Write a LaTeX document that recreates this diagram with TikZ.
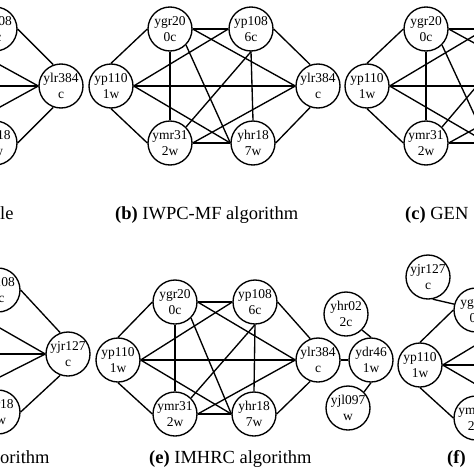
\documentclass[tikz,border=0pt]{standalone}
\usepackage{fontspec}
\setmainfont{Liberation Serif}
\tikzset{
  vtx/.style={circle,draw,line width=1.35pt,minimum size=44pt,inner sep=0pt,align=center,font=\fontsize{13.5}{16}\selectfont},
  edge/.style={line width=1.35pt},
  captext/.style={anchor=base west,inner sep=0pt,font=\fontsize{18.5}{22}\selectfont}
}
\begin{document}
\begin{tikzpicture}[x=1pt,y=-1pt]
\useasboundingbox (0,0) rectangle (474,474);
\clip (0,0) rectangle (474,474);
% ---------- (a) ----------
\node[vtx] (al384) at (61,86) {ylr384\\c};
\node[vtx] (a108) at (-5,29) {yp108\\6c};
\node[vtx] (a18) at (-5,143) {yhr18\\7w};
\coordinate (ag20e) at (-65.5,29);
\coordinate (a110e) at (-124.5,86);
\coordinate (am31e) at (-65.5,143);
\draw[edge] (ag20e) -- (al384.west);
\draw[edge] (a110e) -- (al384.west);
\draw[edge] (am31e) -- (al384.west);
\draw[edge] (a108.east) -- (al384.110);
\draw[edge] (a18.east) -- (al384.250);
\node[captext] (capa) at (0,219) {le};
% ---------- (b) ----------
\node[vtx] (b110) at (111,86) {yp110\\1w};
\node[vtx] (bg20) at (170,29) {ygr20\\0c};
\node[vtx] (b108) at (251,29) {yp108\\6c};
\node[vtx] (bl384) at (318,86) {ylr384\\c};
\node[vtx] (bm31) at (170,143) {ymr31\\2w};
\node[vtx] (bh18) at (253,143) {yhr18\\7w};
\draw[edge] (b110.north) -- (bg20.west);
\draw[edge] (b110.south) -- (bm31.west);
\draw[edge] (b110.east) -- (b108.west);
\draw[edge] (b110.east) -- (bl384.west);
\draw[edge] (b110.east) -- (bh18.west);
\draw[edge] (bg20.east) -- (b108.west);
\draw[edge] (bg20.east) -- (bl384.west);
\draw[edge] (bg20.south east) -- (bh18.west);
\draw[edge] (bg20.south) -- (bm31.north);
\draw[edge] (b108.south) -- (bh18.north);
\draw[edge] (b108.south) -- (bm31.north east);
\draw[edge] (b108.east) -- (bl384.110);
\draw[edge] (bh18.east) -- (bl384.250);
\draw[edge] (bm31.east) -- (bh18.west);
\draw[edge] (bm31.east) -- (bl384.west);
\node[captext] (capb) at (115,219) {\textbf{(b)} IWPC-MF algorithm};
% ---------- (c) ----------
\node[vtx] (c110) at (367,86) {yp110\\1w};
\node[vtx] (cg20) at (426,29) {ygr20\\0c};
\node[vtx] (cm31) at (426,143) {ymr31\\2w};
\coordinate (c108w) at (485.5,29);
\coordinate (c108s) at (507,50.5);
\coordinate (cl384w) at (552.5,86);
\coordinate (ch18w) at (487.5,143);
\draw[edge] (c110.north) -- (cg20.west);
\draw[edge] (c110.south) -- (cm31.west);
\draw[edge] (c110.east) -- (c108w);
\draw[edge] (c110.east) -- (cl384w);
\draw[edge] (c110.east) -- (ch18w);
\draw[edge] (cg20.east) -- (c108w);
\draw[edge] (cg20.east) -- (cl384w);
\draw[edge] (cg20.south east) -- (ch18w);
\draw[edge] (cg20.south) -- (cm31.north);
\draw[edge] (cm31.north east) -- (c108s);
\draw[edge] (cm31.east) -- (ch18w);
\draw[edge] (cm31.east) -- (cl384w);
\node[captext] (capc) at (405,219) {\textbf{(c)} GEN};
% ---------- (d) ----------
\node[vtx] (dj127) at (68,354) {yjr127\\c};
\node[vtx] (d108) at (-2,290) {yp108\\6c};
\node[vtx] (d18) at (-2,412) {yhr18\\7w};
\coordinate (dg20e) at (-55,296.6);
\coordinate (d110e) at (-110,354);
\coordinate (dm31e) at (-55,404.8);
\draw[edge] (dg20e) -- (dj127.west);
\draw[edge] (d110e) -- (dj127.west);
\draw[edge] (dm31e) -- (dj127.west);
\draw[edge] (d108.east) -- (dj127.110);
\draw[edge] (d18.east) -- (dj127.250);
\node[captext] (capd) at (0,463) {orithm};
% ---------- (e) ----------
\node[vtx] (e110) at (118,360) {yp110\\1w};
\node[vtx] (eg20) at (175,302) {ygr20\\0c};
\node[vtx] (e108) at (255,302) {yp108\\6c};
\node[vtx] (el384) at (318,360) {ylr384\\c};
\node[vtx] (em31) at (175,414) {ymr31\\2w};
\node[vtx] (eh18) at (254,414) {yhr18\\7w};
\node[vtx] (eh02) at (346,314) {yhr02\\2c};
\node[vtx] (ed46) at (371,360) {ydr46\\1w};
\node[vtx] (ej097) at (348,408) {yjl097\\w};
\draw[edge] (e110.north) -- (eg20.west);
\draw[edge] (e110.south) -- (em31.west);
\draw[edge] (e110.east) -- (e108.west);
\draw[edge] (e110.east) -- (el384.west);
\draw[edge] (e110.east) -- (eh18.west);
\draw[edge] (eg20.east) -- (e108.west);
\draw[edge] (eg20.east) -- (el384.west);
\draw[edge] (eg20.south east) -- (eh18.west);
\draw[edge] (eg20.south) -- (em31.north);
\draw[edge] (e108.south) -- (eh18.north);
\draw[edge] (e108.south) -- (em31.north east);
\draw[edge] (e108.east) -- (el384.110);
\draw[edge] (eh18.east) -- (el384.250);
\draw[edge] (em31.east) -- (eh18.west);
\draw[edge] (em31.east) -- (el384.west);
\draw[edge] (el384.east) -- (ed46.west);
\draw[edge] (eh02.south east) -- (ed46.north);
\draw[edge] (ed46.south) -- (ej097.north east);
\node[captext] (cape) at (149,463) {\textbf{(e)} IMHRC algorithm};
% ---------- (f) ----------
\node[vtx] (f110) at (420,365) {yp110\\1w};
\node[vtx] (fj127) at (428,277) {yjr127\\c};
\node[vtx] (fg20) at (476,310) {ygr20\\0c};
\node[vtx] (fm31) at (476,418) {ymr31\\2w};
\coordinate (f108w) at (534,310);
\coordinate (fl384w) at (600,365);
\coordinate (fh18w) at (534,418);
\draw[edge] (f110.north) -- (fg20.west);
\draw[edge] (f110.south) -- (fm31.west);
\draw[edge] (f110.east) -- (f108w);
\draw[edge] (f110.east) -- (fl384w);
\draw[edge] (f110.east) -- (fh18w);
\draw[edge] (fj127.-78) -- (fg20.165);
\node[captext] (capf) at (447,463) {\textbf{(f)}};
\end{tikzpicture}
\end{document}
